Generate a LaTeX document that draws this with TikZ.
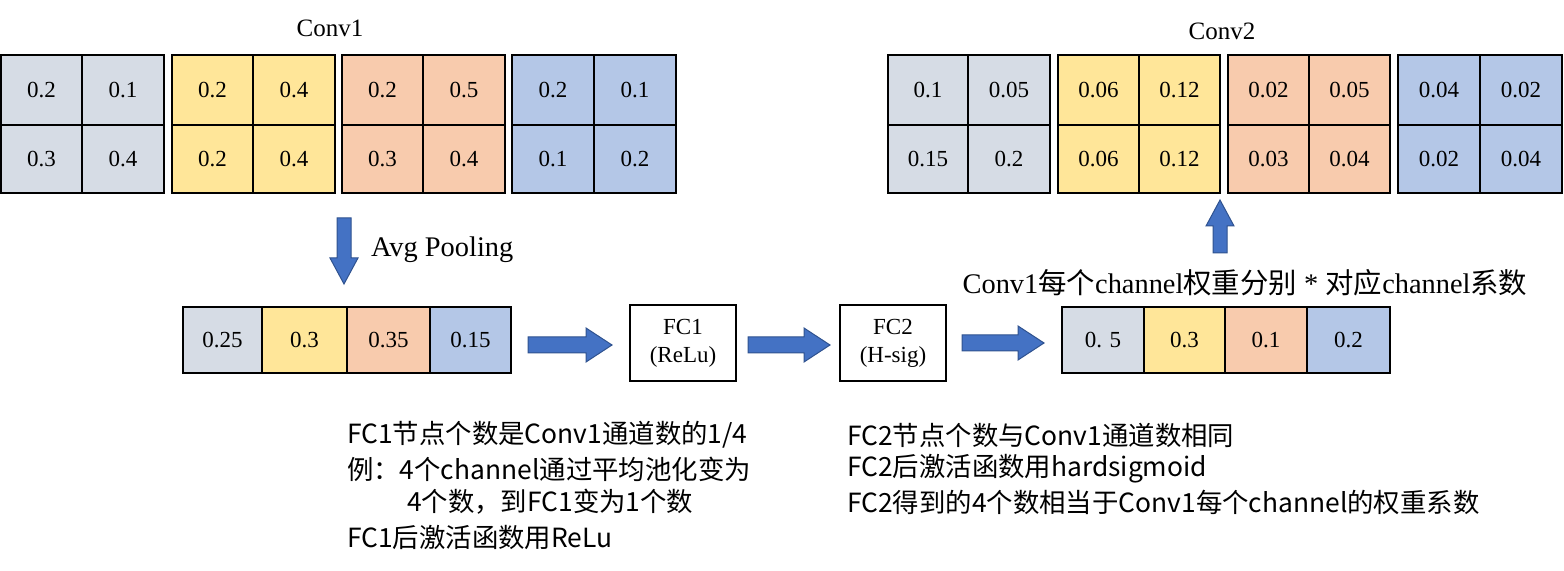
\documentclass[tikz,border=0pt]{standalone}
\usepackage{fontspec}
\setmainfont{Liberation Serif}
\newfontfamily\cjk{Noto Sans CJK SC}
\definecolor{cg}{HTML}{D6DCE5}
\definecolor{cy}{HTML}{FFE699}
\definecolor{co}{HTML}{F8CBAD}
\definecolor{cb}{HTML}{B4C7E7}
\definecolor{ab}{HTML}{4472C4}
\definecolor{ae}{HTML}{2F528F}
\begin{document}
\begin{tikzpicture}[x=0.5pt,y=-0.5pt,
  fcbox/.style={draw=black,line width=0.8pt,align=center,font=\fontsize{11.5}{14}\selectfont},
  lab/.style={font=\fontsize{12.5}{14}\selectfont},
  big/.style={font=\fontsize{14.2}{16}\selectfont},
  note/.style={anchor=west,font=\cjk\fontsize{13.2}{15}\selectfont},
  barrow/.style={fill=ab,draw=ae,line width=0.5pt}]
\useasboundingbox (0,0) rectangle (1564,571);
\newcommand{\grp}[8]{% x0 x1 x2 color a b c d
  \fill[#4] (#1,55) rectangle (#3,193);
  \draw[line width=0.9pt] (#1,55) rectangle (#3,193) (#2,55)--(#2,193) (#1,125)--(#3,125);
  \node[font=\fontsize{11.5}{13}\selectfont] at ({(#1+#2)/2},90) {#5};
  \node[font=\fontsize{11.5}{13}\selectfont] at ({(#2+#3)/2},90) {#6};
  \node[font=\fontsize{11.5}{13}\selectfont] at ({(#1+#2)/2},159) {#7};
  \node[font=\fontsize{11.5}{13}\selectfont] at ({(#2+#3)/2},159) {#8};}
\grp{1}{82}{164}{cg}{0.2}{0.1}{0.3}{0.4}
\grp{172}{253}{335}{cy}{0.2}{0.4}{0.2}{0.4}
\grp{342}{423}{505}{co}{0.2}{0.5}{0.3}{0.4}
\grp{512}{594}{676}{cb}{0.2}{0.1}{0.1}{0.2}
\grp{888}{968}{1050}{cg}{0.1}{0.05}{0.15}{0.2}
\grp{1058}{1139}{1220}{cy}{0.06}{0.12}{0.06}{0.12}
\grp{1228}{1309}{1390}{co}{0.02}{0.05}{0.03}{0.04}
\grp{1398}{1480}{1562}{cb}{0.04}{0.02}{0.02}{0.04}
\node[lab] (conv1) at (330,28) {Conv1};
\node[lab] (conv2) at (1222,31) {Conv2};
\foreach \a/\b/\c/\t/\n in {183/262/cg/0.25/p1,262/347/cy/0.3/p2,347/430/co/0.35/p3,430/511/cb/0.15/p4}{
  \fill[\c] (\a,307) rectangle (\b,373);
  \draw[line width=0.9pt] (\a,307) rectangle (\b,373);
  \node[font=\fontsize{11.5}{13}\selectfont] (\n) at ({(\a+\b)/2},340) {\t};}
\foreach \a/\b/\c/\t/\n in {1062/1144/cg/0. 5/q1,1144/1225/cy/0.3/q2,1225/1307/co/0.1/q3,1307/1390/cb/0.2/q4}{
  \fill[\c] (\a,307) rectangle (\b,373);
  \draw[line width=0.9pt] (\a,307) rectangle (\b,373);
  \node[font=\fontsize{11.5}{13}\selectfont] (\n) at ({(\a+\b)/2},340) {\t};}
\node[fcbox,minimum width=53pt,minimum height=38pt] (fc1) at (683,343) {FC1\\(ReLu)};
\node[fcbox,minimum width=53pt,minimum height=38pt] (fc2) at (893,343) {FC2\\(H-sig)};
\newcommand{\rarr}[3]{%
  \draw[barrow] (#1,#3-8) -- (#2-26,#3-8) -- (#2-26,#3-17) -- (#2,#3) -- (#2-26,#3+17) -- (#2-26,#3+8) -- (#1,#3+8) -- cycle;}
\rarr{528}{612}{345}
\rarr{748}{830}{345}
\rarr{962}{1044}{343}
\draw[barrow] (337,218) -- (351,218) -- (351,258) -- (358,258) -- (344,284) -- (330,258) -- (337,258) -- cycle;
\draw[barrow] (1213,253) -- (1227,253) -- (1227,226) -- (1234,226) -- (1220,200) -- (1206,226) -- (1213,226) -- cycle;
\node[big,anchor=west] (avg) at (364,250) {Avg Pooling};
\node[big] (mul) at (1245,283) {Conv1{\cjk 每个}channel{\cjk 权重分别} * {\cjk 对应}channel{\cjk 系数}};
\node[note] (n1) at (340,435) {FC1节点个数是Conv1通道数的1/4};
\node[note] (n2) at (340,469) {例：4个channel通过平均池化变为};
\node[note] (n3) at (400,502) {4个数，到FC1变为1个数};
\node[note] (n4) at (340,538) {FC1后激活函数用ReLu};
\node[note] (m1) at (840,435) {FC2节点个数与Conv1通道数相同};
\node[note] (m2) at (840,469) {FC2后激活函数用hardsigmoid};
\node[note] (m3) at (840,502) {FC2得到的4个数相当于Conv1每个channel的权重系数};
\end{tikzpicture}
\end{document}
